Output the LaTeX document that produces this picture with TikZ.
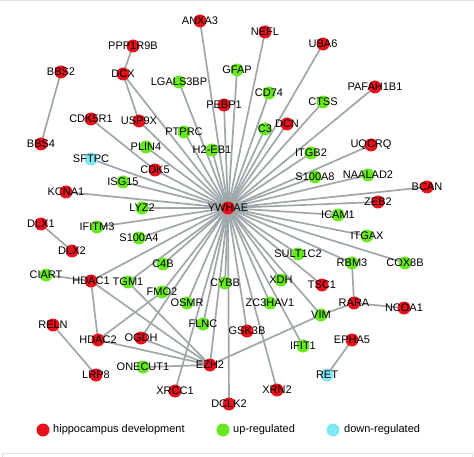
\documentclass[tikz,border=0pt]{standalone}
\usepackage{fontspec}
\setmainfont{Liberation Sans}
\pgfdeclarelayer{bg}
\pgfsetlayers{bg,main}
\definecolor{hipred}{RGB}{232,16,26}
\definecolor{upgreen}{RGB}{104,232,30}
\definecolor{downcyan}{RGB}{128,232,245}
\definecolor{edgegray}{RGB}{158,168,168}
\definecolor{framegray}{RGB}{224,224,224}
\tikzset{
  gene/.style={circle,inner sep=0pt,minimum size=13pt,draw=none},
  hip/.style={gene,fill=hipred},
  upr/.style={gene,fill=upgreen},
  dnr/.style={gene,fill=downcyan},
  lbl/.style={inner sep=0pt,text=black,font=\fontsize{11}{13}\selectfont},
  edge/.style={draw=edgegray,line width=1.7pt},
}
\newcommand\gn[4]{\node[#1] (#2) at (#3) {};\node[lbl] (l#2) at (#2.center) {#4};}
\begin{document}
\begin{tikzpicture}[x=1pt,y=-1pt]
\useasboundingbox (0,0) rectangle (474,457);
\fill[framegray] (0,0) rectangle (474,1.5);
\draw[framegray,line width=0.8pt] (2,457) -- (2,453) -- (472,453) -- (472,457);
% hippocampus development
\gn{hip}{anxa3}{200,21}{ANXA3}
\gn{hip}{nefl}{265,32}{NEFL}
\gn{hip}{uba6}{323,44}{UBA6}
\gn{hip}{pafah}{375,87}{PAFAH1B1}
\gn{hip}{ppp}{133,46}{PPP1R9B}
\gn{hip}{dcx}{123,74}{DCX}
\gn{hip}{bbs2}{61,72}{BBS2}
\gn{hip}{cdkfr}{91,119}{CDK5R1}
\gn{hip}{usp}{139,121}{USP9X}
\gn{hip}{pebp}{224,105}{PEBP1}
\gn{hip}{dcn}{287,124}{DCN}
\gn{hip}{bbs4}{41,144}{BBS4}
\gn{hip}{cdkf}{155,170}{CDK5}
\gn{hip}{kcna}{66,192}{KCNA1}
\gn{hip}{ywhae}{228,208}{YWHAE}
\gn{hip}{uqcrq}{371,145}{UQCRQ}
\gn{hip}{bcan}{427,187}{BCAN}
\gn{hip}{zeb}{378,202}{ZEB2}
\gn{hip}{dlxa}{41,224}{DLX1}
\gn{hip}{dlxb}{72,251}{DLX2}
\gn{hip}{hdaca}{91,281}{HDAC1}
\gn{hip}{tsc}{322,285}{TSC1}
\gn{hip}{rara}{354,303}{RARA}
\gn{hip}{ncoa}{404,308}{NCOA1}
\gn{hip}{reln}{53,325}{RELN}
\gn{hip}{hdacb}{98,340}{HDAC2}
\gn{hip}{ogdh}{141,338}{OGDH}
\gn{hip}{gsk}{247,331}{GSK3B}
\gn{hip}{epha}{352,340}{EPHA5}
\gn{hip}{ezh}{210,365}{EZH2}
\gn{hip}{lrp}{96,375}{LRP8}
\gn{hip}{xrcc}{175,391}{XRCC1}
\gn{hip}{xrn}{277,390}{XRN2}
\gn{hip}{dclk}{229,404}{DCLK2}
% up-regulated
\gn{upr}{lgals}{179,82}{LGALS3BP}
\gn{upr}{gfap}{237,70}{GFAP}
\gn{upr}{cd}{269,93}{CD74}
\gn{upr}{ctss}{323,102}{CTSS}
\gn{upr}{ptprc}{184,132}{PTPRC}
\gn{upr}{cthree}{265,129}{C3}
\gn{upr}{heb}{212,150}{H2-EB1}
\gn{upr}{plin}{146,147}{PLIN4}
\gn{upr}{isg}{123,182}{ISG15}
\gn{upr}{lyz}{142,208}{LYZ2}
\gn{upr}{ifitm}{97,227}{IFITM3}
\gn{upr}{sfour}{139,238}{S100A4}
\gn{upr}{itgb}{311,153}{ITGB2}
\gn{upr}{seight}{315,177}{S100A8}
\gn{upr}{naalad}{368,175}{NAALAD2}
\gn{upr}{icam}{338,215}{ICAM1}
\gn{upr}{itgax}{367,236}{ITGAX}
\gn{upr}{cox}{405,263}{COX8B}
\gn{upr}{rbm}{352,263}{RBM3}
\gn{upr}{sult}{298,254}{SULT1C2}
\gn{upr}{cfb}{163,264}{C4B}
\gn{upr}{ciart}{46,275}{CIART}
\gn{upr}{tgm}{128,282}{TGM1}
\gn{upr}{fmo}{162,292}{FMO2}
\gn{upr}{cybb}{225,283}{CYBB}
\gn{upr}{osmr}{187,303}{OSMR}
\gn{upr}{flnc}{203,324}{FLNC}
\gn{upr}{xdh}{281,280}{XDH}
\gn{upr}{zc}{270,303}{ZC3HAV1}
\gn{upr}{vim}{321,315}{VIM}
\gn{upr}{ifit}{303,346}{IFIT1}
\gn{upr}{onecut}{143,367}{ONECUT1}
% down-regulated
\gn{dnr}{sftpc}{91,159}{SFTPC}
\gn{dnr}{ret}{327,375}{RET}
% edges
\begin{pgfonlayer}{bg}
\foreach \n in {anxa3,nefl,uba6,pafah,ctss,dcx,usp,lgals,gfap,cd,pebp,ptprc,cthree,dcn,heb,cdkf,plin,sftpc,isg,kcna,lyz,ifitm,sfour,uqcrq,itgb,seight,naalad,bcan,zeb,icam,itgax,cox,rbm,sult,tsc,vim,xdh,zc,ifit,xrn,gsk,dclk,cybb,flnc,osmr,ezh,xrcc,fmo,ogdh,cfb,tgm,hdaca}
  \draw[edge] (ywhae.center) -- (\n.center);
\draw[edge] (ppp.center) -- (dcx.center);
\draw[edge] (dcx.center) -- (usp.center);
\draw[edge] (bbs2.center) -- (bbs4.center);
\draw[edge] (cdkfr.center) -- (cdkf.center);
\draw[edge] (dlxa.center) -- (dlxb.center);
\draw[edge] (reln.center) -- (lrp.center);
\draw[edge] (ciart.center) -- (hdaca.center);
\draw[edge] (hdaca.center) -- (hdacb.center);
\draw[edge] (hdaca.center) -- (ezh.center);
\draw[edge] (tgm.center) -- (ezh.center);
\draw[edge] (hdacb.center) -- (ezh.center);
\draw[edge] (hdacb.center) -- (fmo.center);
\draw[edge] (ogdh.center) -- (ezh.center);
\draw[edge] (onecut.center) -- (ezh.center);
\draw[edge] (vim.center) -- (ezh.center);
\draw[edge] (vim.center) -- (rara.center);
\draw[edge] (rbm.center) -- (rara.center);
\draw[edge] (rara.center) -- (ncoa.center);
\draw[edge] (epha.center) -- (ret.center);
\end{pgfonlayer}
% legend
\node[hip] (lega) at (43,430) {};
\node[lbl,anchor=west] (legat) at (53,430) {hippocampus development};
\node[upr] (legb) at (223,430) {};
\node[lbl,anchor=west] (legbt) at (233,430) {up-regulated};
\node[dnr] (legc) at (333,430) {};
\node[lbl,anchor=west] (legct) at (344,430) {down-regulated};
\end{tikzpicture}
\end{document}
